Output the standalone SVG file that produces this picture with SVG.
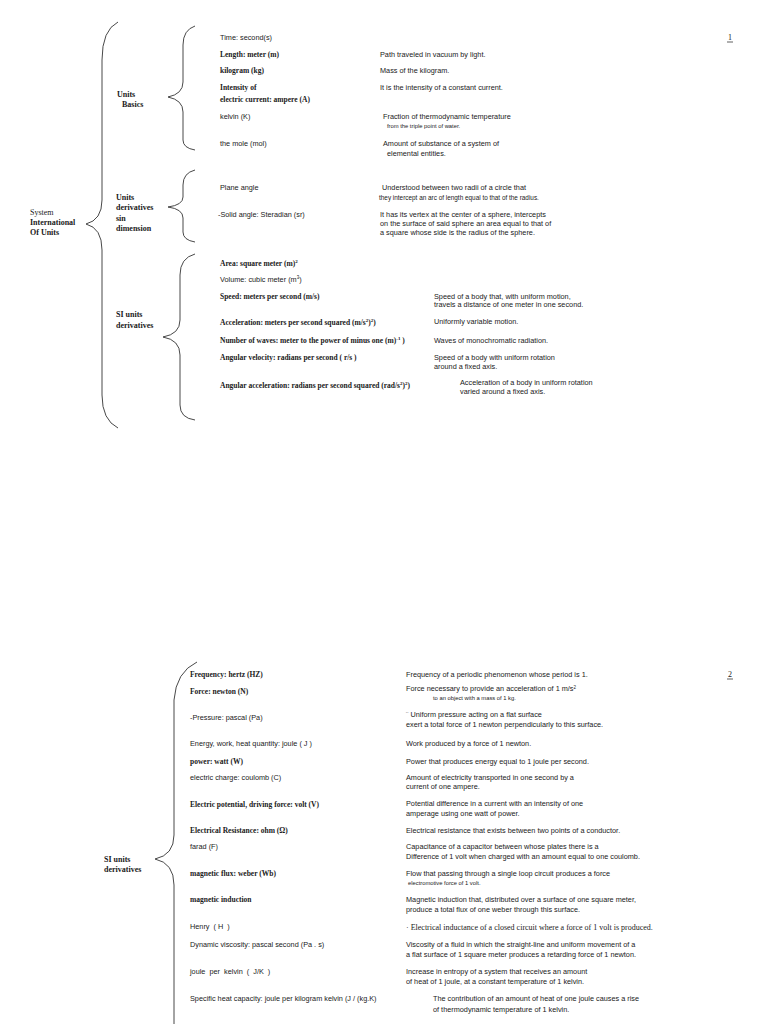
<svg xmlns="http://www.w3.org/2000/svg" width="768" height="1024" viewBox="0 0 768 1024">
<style>
.s{font-family:"Liberation Sans",Arial,sans-serif;font-size:7.3px;fill:#1a1a1a}
.b{font-family:"Liberation Serif","Times New Roman",serif;font-size:7.5px;font-weight:bold;fill:#1a1a1a}
.r{font-family:"Liberation Serif","Times New Roman",serif;font-size:8px;fill:#1a1a1a}
.l{font-family:"Liberation Serif","Times New Roman",serif;font-size:8px;font-weight:bold;fill:#1a1a1a}
.sm{font-size:5.8px}
.m{font-size:6.4px}
.br{fill:none;stroke:#333;stroke-width:0.9}
</style>
<rect width="768" height="1024" fill="#fff"/>
<g id="connectors">
<path class="br" d="M118,22 Q102,30 102,60 L102,200 Q102,220 86,224 Q102,228 102,250 L102,395 Q102,420 118,428"/>
<path class="br" d="M195,26 Q183,30 183,45 L183,82 Q183,94 168,97 Q183,100 183,112 L183,140 Q183,148 195,150"/>
<path class="br" d="M195,170 Q183,173 183,185 L183,197 Q183,205 168,207 Q183,209 183,218 L183,232 Q183,240 195,242"/>
<path class="br" d="M195,254 Q180,258 180,275 L180,320 Q180,334 163,337 Q180,340 180,355 L180,405 Q180,418 195,420"/>
<path class="br" d="M197,662 Q176,672 174,700 L174,835 Q174,855 155,859 Q174,863 174,885 L174,1030"/>
</g>
<g id="root"><text class="l"><tspan x="30" y="214.5" font-weight="normal">System</tspan><tspan x="30" y="224.5">International</tspan><tspan x="30" y="234.5">Of Units</tspan></text></g>
<g id="basics"><text class="l" font-size="7.5"><tspan x="117" y="96.5">Units</tspan><tspan x="122" y="106.5">Basics</tspan></text></g>
<g id="dimless"><text class="l" font-size="7.5"><tspan x="116" y="199.5">Units</tspan><tspan x="116" y="210">derivatives</tspan><tspan x="116" y="220.5">sin</tspan><tspan x="116" y="231">dimension</tspan></text></g>
<g id="siderived"><text class="l" font-size="7.5"><tspan x="116" y="317">SI units</tspan><tspan x="116" y="327.5">derivatives</tspan></text></g>
<g id="page1"><text class="r" x="728" y="40" font-size="7.5">1</text><line x1="727" y1="42" x2="733" y2="42" stroke="#1a1a1a" stroke-width="0.7"/></g>
<g id="time"><text class="s" x="220" y="40">Time: second(s)</text></g>
<g id="length"><text class="b" x="220" y="56.5">Length: meter (m)</text><text class="s" x="380" y="56.5">Path traveled in vacuum by light.</text></g>
<g id="kilogram"><text class="b" x="220" y="72.5">kilogram (kg)</text><text class="s" x="380" y="72.5">Mass of the kilogram.</text></g>
<g id="ampere"><text class="b"><tspan x="220" y="89.5">Intensity of</tspan><tspan x="220" y="101.5">electric current: ampere (A)</tspan></text><text class="s" x="380" y="89.5">It is the intensity of a constant current.</text></g>
<g id="kelvin"><text class="s" x="220" y="118.5">kelvin (K)</text><text class="s" x="383" y="118.5">Fraction of thermodynamic temperature</text><text class="s sm" x="387" y="128">from the triple point of water.</text></g>
<g id="mole"><text class="s" x="220" y="145.5">the mole (mol)</text><text class="s"><tspan x="383" y="145.5">Amount of substance of a system of</tspan><tspan x="387" y="155.5">elemental entities.</tspan></text></g>
<g id="plane"><text class="s" x="220" y="189.5">Plane angle</text><text class="s" x="382" y="189.5">Understood between two radii of a circle that</text><text class="s m" x="379" y="199.5">they intercept an arc of length equal to that of the radius.</text></g>
<g id="solid"><text class="s" x="218" y="216.5">-Solid angle: Steradian (sr)</text><text class="s"><tspan x="380" y="216.5">It has its vertex at the center of a sphere, intercepts</tspan><tspan x="380" y="225.5">on the surface of said sphere an area equal to that of</tspan><tspan x="380" y="234.5">a square whose side is the radius of the sphere.</tspan></text></g>
<g id="area"><text class="b" x="220" y="265.5">Area: square meter (m)<tspan dy="-3" font-size="5">2</tspan></text></g>
<g id="volume"><text class="s" x="220" y="282">Volume: cubic meter (m<tspan dy="-3" font-size="4.5">3</tspan><tspan dy="3">)</tspan></text></g>
<g id="speed"><text class="b" x="220" y="299">Speed: meters per second (m/s)</text><text class="s"><tspan x="434" y="298.5">Speed of a body that, with uniform motion,</tspan><tspan x="434" y="306.5">travels a distance of one meter in one second.</tspan></text></g>
<g id="accel"><text class="b" x="220" y="325">Acceleration: meters per second squared (m/s<tspan dy="-3" font-size="5">2</tspan><tspan dy="3">)</tspan><tspan dy="-3" font-size="5">2</tspan><tspan dy="3">)</tspan></text><text class="s" x="434" y="324">Uniformly variable motion.</text></g>
<g id="waves"><text class="b" x="220" y="343">Number of waves: meter to the power of minus one (m)<tspan dy="-3" font-size="5">-1</tspan><tspan dy="3"> )</tspan></text><text class="s" x="434" y="343">Waves of monochromatic radiation.</text></g>
<g id="angvel"><text class="b" x="220" y="360">Angular velocity: radians per second ( r/s )</text><text class="s"><tspan x="434" y="360">Speed of a body with uniform rotation</tspan><tspan x="434" y="368.5">around a fixed axis.</tspan></text></g>
<g id="angacc"><text class="b" x="220" y="388">Angular acceleration: radians per second squared (rad/s<tspan dy="-3" font-size="5">2</tspan><tspan dy="3">)</tspan><tspan dy="-3" font-size="5">2</tspan><tspan dy="3">)</tspan></text><text class="s"><tspan x="460" y="385">Acceleration of a body in uniform rotation</tspan><tspan x="460" y="394">varied around a fixed axis.</tspan></text></g>
<g id="page2"><text class="r" x="728" y="677" font-size="7.5">2</text><line x1="727" y1="679" x2="733" y2="679" stroke="#1a1a1a" stroke-width="0.7"/></g>
<g id="siderived2"><text class="l"><tspan x="104" y="861.5">SI units</tspan><tspan x="104" y="872">derivatives</tspan></text></g>
<g id="hertz"><text class="b" x="190" y="676.5">Frequency: hertz (HZ)</text><text class="s" x="406" y="676.5">Frequency of a periodic phenomenon whose period is 1.</text></g>
<g id="newton"><text class="b" x="190" y="693.5">Force: newton (N)</text><text class="s" x="406" y="691">Force necessary to provide an acceleration of 1 m/s<tspan dy="-2.5" font-size="4.5">2</tspan></text><text class="s sm" x="433" y="700">to an object with a mass of 1 kg.</text></g>
<g id="pascal"><text class="s" x="190" y="719.5">-Pressure: pascal (Pa)</text><text class="s"><tspan x="406" y="717">¨ Uniform pressure acting on a flat surface</tspan><tspan x="406" y="727">exert a total force of 1 newton perpendicularly to this surface.</tspan></text></g>
<g id="joule"><text class="s" x="190" y="745.5">Energy, work, heat quantity: joule ( J )</text><text class="s" x="406" y="745.5">Work produced by a force of 1 newton.</text></g>
<g id="watt"><text class="b" x="190" y="763.5">power: watt (W)</text><text class="s" x="406" y="763.5">Power that produces energy equal to 1 joule per second.</text></g>
<g id="coulomb"><text class="s" x="190" y="779.5">electric charge: coulomb (C)</text><text class="s"><tspan x="406" y="779.5">Amount of electricity transported in one second by a</tspan><tspan x="406" y="789">current of one ampere.</tspan></text></g>
<g id="volt"><text class="b" x="190" y="806.5">Electric potential, driving force: volt (V)</text><text class="s"><tspan x="406" y="806">Potential difference in a current with an intensity of one</tspan><tspan x="406" y="815.5">amperage using one watt of power.</tspan></text></g>
<g id="ohm"><text class="b" x="190" y="832.5">Electrical Resistance: ohm (Ω)</text><text class="s" x="406" y="832.5">Electrical resistance that exists between two points of a conductor.</text></g>
<g id="farad"><text class="s" x="190" y="849">farad (F)</text><text class="s"><tspan x="406" y="849">Capacitance of a capacitor between whose plates there is a</tspan><tspan x="406" y="858.5">Difference of 1 volt when charged with an amount equal to one coulomb.</tspan></text></g>
<g id="weber"><text class="b" x="190" y="875.5">magnetic flux: weber (Wb)</text><text class="s" x="406" y="875.5">Flow that passing through a single loop circuit produces a force</text><text class="s sm" x="408" y="884.5">electromotive force of 1 volt.</text></g>
<g id="induction"><text class="b" x="190" y="902">magnetic induction</text><text class="s"><tspan x="406" y="902">Magnetic induction that, distributed over a surface of one square meter,</tspan><tspan x="406" y="911.5">produce a total flux of one weber through this surface.</tspan></text></g>
<g id="henry"><text class="s" x="190" y="929" xml:space="preserve">Henry  ( H  )</text><text class="r" x="406" y="929.5" font-size="8.2">· Electrical inductance of a closed circuit where a force of 1 volt is produced.</text></g>
<g id="viscosity"><text class="s" x="190" y="947">Dynamic viscosity: pascal second (Pa . s)</text><text class="s"><tspan x="406" y="947">Viscosity of a fluid in which the straight-line and uniform movement of a</tspan><tspan x="406" y="957">a flat surface of 1 square meter produces a retarding force of 1 newton.</tspan></text></g>
<g id="entropy"><text class="s" x="190" y="974" xml:space="preserve">joule  per  kelvin  (  J/K  )</text><text class="s"><tspan x="406" y="974">Increase in entropy of a system that receives an amount</tspan><tspan x="406" y="984">of heat of 1 joule, at a constant temperature of 1 kelvin.</tspan></text></g>
<g id="heatcap"><text class="s" x="190" y="1001">Specific heat capacity: joule per kilogram kelvin (J / (kg.K)</text><text class="s"><tspan x="433" y="1001">The contribution of an amount of heat of one joule causes a rise</tspan><tspan x="433" y="1011.5">of thermodynamic temperature of 1 kelvin.</tspan></text></g>
</svg>
